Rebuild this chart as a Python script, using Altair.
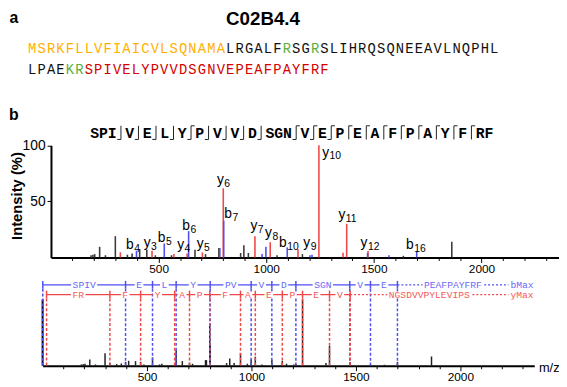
import altair as alt
import pandas as pd

# ---------------- data ----------------
title_text = "C02B4.4"
line1_segments = [("MSRKFLLVFIAICVLSQNAMA", "signal"), ("LRGALF", "other"), ("R", "site"),
                  ("SG", "other"), ("R", "site"), ("SLIHRQSQNEEAVLNQPHL", "other")]
line2_segments = [("LPAE", "other"), ("KR", "site"), ("SPIVELYPVVDSGNVEPEAFPAYFRF", "peptide")]
role_names = ["signal", "other", "site", "peptide"]
role_colors = ["#FFB000", "#111111", "#5BAE3C", "#D40000"]

ladder_tokens = ["SPI", "V", "E", "L", "Y", "P", "V", "V", "D", "SGN", "V", "E", "P", "E",
                 "A", "F", "P", "A", "Y", "F", "RF"]
sep_has_b = [True] * 12 + [False] * 8
sep_has_y = [False, False, False, False, True, False, False, False, False, True,
             True, True, True, True, True, True, True, True, True, True]

peak_mz = [186, 195, 203, 226, 253, 299, 322.2, 355, 377, 397.2, 412, 445, 469.3, 485,
           526.3, 560, 571, 632.3, 639.4, 669, 703.4, 718, 780, 784.4, 800.4, 802.4, 881,
           896, 917, 947.5, 980.5, 998.5, 1018.5, 1050, 1097.6, 1147.6, 1168, 1203, 1212.7,
           1244.6, 1356.7, 1373.7, 1470.7, 1472.7, 1569.8, 1637, 1698.9, 1862]
peak_int = [2, 2.5, 3, 9.5, 2, 19, 4.6, 2.5, 3.5, 6, 7.5, 7, 6, 2,
            12.5, 2, 3, 3.5, 23.5, 7, 4.5, 3, 8.5, 8.5, 61.7, 32.8, 4,
            11, 4, 19, 3, 9.5, 13.6, 2, 9, 7.3, 3, 2, 2.5,
            100, 4.3, 30, 4, 5.8, 2, 1.5, 5.8, 14]
peak_type = ["o", "o", "o", "o", "o", "o", "y", "o", "o", "b", "o", "o", "y", "o",
             "b", "o", "y", "y", "b", "o", "y", "o", "o", "b", "y", "b", "o",
             "o", "o", "y", "b", "b", "y", "o", "b", "y", "o", "b", "b",
             "y", "y", "y", "b", "y", "b", "o", "b", "o"]

label_letter = ["b", "y", "b", "y", "b", "y", "y", "b", "y", "y", "b", "y", "y", "y", "y", "b"]
label_num = ["4", "3", "5", "4", "6", "5", "6", "7", "7", "8", "10", "9", "10", "11", "12", "16"]
label_mz = [379.5, 458, 527.5, 613.7, 641, 704.5, 798.5, 836.1, 954.2, 1022.2, 1090.3,
            1199.3, 1287.3, 1362.7, 1465.7, 1680.4]
label_int = [7.8, 9.6, 13.5, 7.8, 24.8, 8.7, 65.2, 34.8, 24.3, 18.3, 9.6, 9.6, 90, 33.9, 9.6, 7.4]

b_ladder_mz = [1.0, 397.2, 526.3, 639.4, 802.4, 998.5, 1097.6, 1212.7, 1470.7, 1569.8, 1698.9]
b_ladder_text = ["SPIV", "E", "L", "Y", "PV", "V", "D", "SGN", "V", "E"]
b_ladder_rest = "PEAFPAYFRF"
y_ladder_mz = [19.0, 322.2, 469.3, 632.3, 703.4, 800.4, 947.5, 1018.5, 1147.6, 1244.6,
               1373.7, 1472.7]
y_ladder_text = ["FR", "F", "Y", "A", "P", "F", "A", "E", "P", "E", "V"]
y_ladder_rest = "NGSDVVPYLEVIPS"
ladder_end_mz = 2230
mz_ticks = list(range(100, 2400, 100))

# ---------------- layout helpers ----------------
W, H = 559, 379
KX, KY = 559 / 564, 379 / 383


def X(r):
    return round((r - 3) * KX, 2)


def Y(r):
    return round((r - 4) * KY, 2)


BLUE = "#4F4FF2"
RED = "#F04848"
LBLUE = "#6A6AF5"
LRED = "#F55A5A"
SANS = "Liberation Sans"
MONO = "Liberation Mono"
LADDER_FONT = 9.8
LADDER_CHAR_W = 0.6 * LADDER_FONT

# ---------------- panel a ----------------
rows = []
for line_no, segs in enumerate([line1_segments, line2_segments]):
    i = 0
    for txt, role in segs:
        for ch in txt:
            rows.append({"idx": i, "line": line_no, "ch": ch, "role": role})
            i += 1
chars_df = pd.DataFrame(rows)
seq_chart = alt.Chart(chars_df).mark_text(font=MONO, fontSize=14, baseline="middle", align="center").encode(
    x=alt.X("idx:Q", scale=alt.Scale(domain=[0, 49], range=[X(27.8), X(500.7)]), axis=None),
    y=alt.Y("line:Q", scale=alt.Scale(domain=[0, 1], range=[Y(43), Y(65)]), axis=None),
    text="ch:N",
    color=alt.Color("role:N", scale=alt.Scale(domain=role_names, range=role_colors), legend=None),
)


def fixed_text(t, x, y, size, weight="normal", angle=0, align="center", font=SANS):
    return alt.Chart(pd.DataFrame({"t": [t]})).mark_text(
        font=font, fontSize=size, fontWeight=weight, angle=angle, align=align,
        baseline="middle", color="black").encode(x=alt.value(x), y=alt.value(y), text="t:N")


texts = [
    fixed_text("a", X(9), Y(12), 16, "bold"),
    fixed_text("b", X(9), Y(111), 16, "bold"),
    fixed_text(title_text, X(264), Y(12.5), 19, "bold"),
    fixed_text("Intensity (%)", X(12), Y(194), 15, "bold", angle=270),
    fixed_text("m/z", X(557), Y(370), 13),
]

# ---------------- top annotation (ion ladder glyphs) ----------------
slot_rows, sep_rows = [], []
s = 0
for k, tok in enumerate(ladder_tokens):
    for ch in tok:
        slot_rows.append({"slot": s, "ch": ch})
        s += 1
    if k < len(ladder_tokens) - 1:
        sep_rows.append({"slot": s, "b": sep_has_b[k], "y": sep_has_y[k],
                         "left": s - 0.42, "right": s + 0.42})
        s += 1
slots_df = pd.DataFrame(slot_rows)
seps_df = pd.DataFrame(sep_rows)
slot_scale = alt.Scale(domain=[0, 45], range=[X(91.7), X(495.3)])

ann_letters = alt.Chart(slots_df).mark_text(font=MONO, fontSize=15, fontWeight="bold",
                                            baseline="middle", color="black").encode(
    x=alt.X("slot:Q", scale=slot_scale, axis=None), y=alt.value(Y(129)), text="ch:N")
ann_vert = alt.Chart(seps_df).mark_rule(color="#222", strokeWidth=1).encode(
    x=alt.X("slot:Q", scale=slot_scale, axis=None), y=alt.value(Y(122)), y2=alt.value(Y(136)))
ann_b = alt.Chart(seps_df[seps_df["b"]]).mark_rule(color="#222", strokeWidth=1).encode(
    x=alt.X("slot:Q", scale=slot_scale, axis=None), x2="left:Q", y=alt.value(Y(136)))
ann_y = alt.Chart(seps_df[seps_df["y"]]).mark_rule(color="#222", strokeWidth=1).encode(
    x=alt.X("slot:Q", scale=slot_scale, axis=None), x2="right:Q", y=alt.value(Y(122)))
ann_group = alt.layer(ann_vert, ann_b, ann_y, ann_letters)

# ---------------- top spectrum ----------------
order_key = {"o": 0, "y": 1, "b": 2}
peaks_df = pd.DataFrame({"mz": peak_mz, "inten": peak_int, "type": peak_type})
peaks_df["k"] = peaks_df["type"].map(order_key)
peaks_df = peaks_df.sort_values("k", kind="stable").reset_index(drop=True)

tick_size = {"condition": {"test": "datum.value % 500 === 0", "value": 5}, "value": 3}
top_x = alt.Scale(domain=[0, 2360], range=[X(47), X(567)])
top_y = alt.Scale(domain=[0, 100], range=[Y(257), Y(142)])
top_x_axis = alt.Axis(orient="bottom", offset=Y(257) - H, values=mz_ticks, format="d",
                      labelExpr="datum.value % 500 === 0 ? datum.label : ''",
                      tickSize=tick_size, domainWidth=2, domainColor="black", tickColor="black",
                      labelFont=SANS, labelFontSize=12, labelColor="black", labelPadding=1,
                      grid=False, title=None, labelOverlap=False)
top_y_axis = alt.Axis(orient="left", offset=-X(47), values=[50, 100], format="d", tickSize=4,
                      domainWidth=2, domainColor="black", tickColor="black",
                      labelFont=SANS, labelFontSize=14, labelColor="black", labelPadding=2,
                      grid=False, title=None)

top_bars = alt.Chart(peaks_df).mark_rule(strokeWidth=1.6).encode(
    x=alt.X("mz:Q", scale=top_x, axis=top_x_axis),
    y=alt.Y("inten:Q", scale=top_y, axis=top_y_axis),
    y2=alt.datum(0),
    color=alt.Color("type:N", scale=alt.Scale(domain=["o", "y", "b"], range=["#3C3C3C", RED, BLUE]),
                    legend=None),
)
lab_df = pd.DataFrame({"letter": label_letter, "num": label_num, "mz": label_mz, "inten": label_int})
top_lab_main = alt.Chart(lab_df).mark_text(font=SANS, fontSize=14, align="right", baseline="alphabetic",
                                           dx=1, color="black").encode(
    x=alt.X("mz:Q", scale=top_x, axis=top_x_axis),
    y=alt.Y("inten:Q", scale=top_y, axis=top_y_axis), text="letter:N")
top_lab_sub = alt.Chart(lab_df).mark_text(font=SANS, fontSize=10.5, align="left", baseline="alphabetic",
                                          dx=1.5, dy=3, color="black").encode(
    x=alt.X("mz:Q", scale=top_x, axis=top_x_axis),
    y=alt.Y("inten:Q", scale=top_y, axis=top_y_axis), text="num:N")
top_group = alt.layer(top_bars, top_lab_main, top_lab_sub)

# ---------------- bottom panel ----------------
bot_range = [X(38.4), X(541.7)]
bot_domain = [0, 2354]
px_per_mz = (bot_range[1] - bot_range[0]) / (bot_domain[1] - bot_domain[0])
bot_x = alt.Scale(domain=bot_domain, range=bot_range)
bot_y = alt.Scale(domain=[0, 100], range=[Y(368), Y(300)])
bot_x_axis = alt.Axis(orient="bottom", offset=Y(368) - H, values=mz_ticks, format="d",
                      labelExpr="datum.value % 500 === 0 ? datum.label : ''",
                      tickSize=tick_size, domainWidth=2, domainColor="black", tickColor="black",
                      labelFont=SANS, labelFontSize=12, labelColor="black", labelPadding=1,
                      grid=False, title=None, labelOverlap=False)

bot_bars = alt.Chart(peaks_df).mark_rule(strokeWidth=1.5, color="#222222").encode(
    x=alt.X("mz:Q", scale=bot_x, axis=bot_x_axis),
    y=alt.Y("inten:Q", scale=bot_y, axis=None),
    y2=alt.datum(0),
)
bot_yline = alt.Chart(pd.DataFrame({"v": [0]})).mark_rule(strokeWidth=2, color="black").encode(
    x=alt.X("v:Q", scale=bot_x, axis=bot_x_axis),
    y=alt.Y("v:Q", scale=bot_y, axis=None),
    y2=alt.datum(100),
)


def ladder(ion_mz, labels, rest, color, tcolor, max_label, y_line, y_top, y_bot):
    ions = pd.DataFrame({"mz": ion_mz})
    mids = [(ion_mz[i] + ion_mz[i + 1]) / 2 for i in range(len(labels))]
    lab = pd.DataFrame({"mz": mids + [(ion_mz[-1] + ladder_end_mz) / 2], "t": labels + [rest]})
    half = (lab["t"].str.len() * LADDER_CHAR_W / 2 + 1.5) / px_per_mz
    lab["lo"] = lab["mz"] - half
    lab["hi"] = lab["mz"] + half
    solid = pd.DataFrame({"mz": [ion_mz[0]], "end": [ion_mz[-1]]})
    dotted = pd.DataFrame({"mz": [ion_mz[-1]], "end": [ladder_end_mz]})
    mx = pd.DataFrame({"mz": [ladder_end_mz + 10], "t": [max_label]})
    xenc = alt.X("mz:Q", scale=bot_x, axis=bot_x_axis)
    layers = [
        alt.Chart(solid).mark_rule(color=color, strokeWidth=1.3).encode(x=xenc, x2="end:Q", y=alt.value(Y(y_line))),
        alt.Chart(dotted).mark_rule(color=color, strokeWidth=1.3, strokeDash=[2, 2]).encode(
            x=xenc, x2="end:Q", y=alt.value(Y(y_line))),
        alt.Chart(ions).mark_rule(color=color, strokeWidth=1.5, strokeDash=[3, 2]).encode(
            x=xenc, y=alt.value(Y(y_bot)), y2=alt.value(Y(368))),
        alt.Chart(lab).mark_rect(color="white").encode(
            x=alt.X("lo:Q", scale=bot_x, axis=bot_x_axis), x2="hi:Q",
            y=alt.value(Y(y_line - 3)), y2=alt.value(Y(y_line + 3))),
        alt.Chart(ions).mark_rule(color=color, strokeWidth=1.5).encode(
            x=xenc, y=alt.value(Y(y_top)), y2=alt.value(Y(y_bot))),
        alt.Chart(lab).mark_text(font=MONO, fontSize=LADDER_FONT, baseline="middle", color=tcolor).encode(
            x=xenc, y=alt.value(Y(y_line)), text="t:N"),
        alt.Chart(mx).mark_text(font=MONO, fontSize=LADDER_FONT, baseline="middle", align="left", color=tcolor).encode(
            x=xenc, y=alt.value(Y(y_line)), text="t:N"),
    ]
    return layers


bot_layers = [bot_bars, bot_yline]
bot_layers += ladder(b_ladder_mz, b_ladder_text, b_ladder_rest, BLUE, LBLUE, "bMax", 285, 281, 289)
bot_layers += ladder(y_ladder_mz, y_ladder_text, y_ladder_rest, RED, LRED, "yMax", 295, 291, 299)
bot_group = alt.layer(*bot_layers)

chart = alt.layer(seq_chart, ann_group, top_group, bot_group, *texts).resolve_scale(
    x="independent", y="independent", color="independent"
).properties(
    width=W, height=H, autosize=alt.AutoSizeParams(type="none"), padding=0
).configure_view(stroke=None).configure_axis(grid=False)

chart.save("out.html", embed_options={"renderer": "svg", "actions": False})
